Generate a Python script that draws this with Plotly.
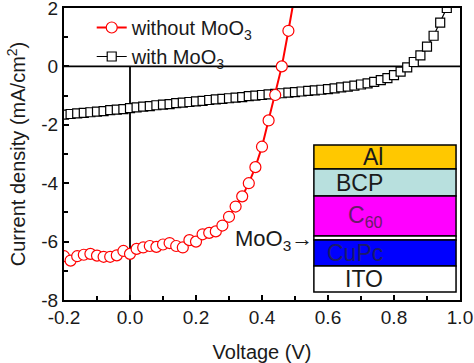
import plotly.graph_objects as go

# ---- data ----
v_without = [-0.20, -0.18, -0.16, -0.14, -0.12, -0.10, -0.08, -0.06, -0.04, -0.02,
             0.00, 0.02, 0.04, 0.06, 0.08, 0.10, 0.12, 0.14, 0.16, 0.18,
             0.20, 0.22, 0.24, 0.26, 0.28, 0.30, 0.32, 0.34, 0.36, 0.38,
             0.40, 0.42, 0.44, 0.46, 0.48, 0.50]
j_without = [-6.50, -6.65, -6.50, -6.45, -6.42, -6.48, -6.52, -6.52, -6.47, -6.32,
             -6.42, -6.25, -6.20, -6.15, -6.18, -6.10, -6.05, -6.15, -6.20, -5.95,
             -6.00, -5.75, -5.70, -5.65, -5.45, -5.15, -4.80, -4.45, -4.00, -3.45,
             -2.75, -1.85, -0.98, 0.00, 1.22, 2.50]

v_with = [round(-0.20 + 0.02 * i, 2) for i in range(59)]
j_with = [-1.65, -1.63, -1.61, -1.59, -1.57, -1.55, -1.53, -1.50, -1.48, -1.46,
          -1.43, -1.40, -1.38, -1.36, -1.33, -1.31, -1.29, -1.26, -1.24, -1.22,
          -1.20, -1.18, -1.15, -1.13, -1.11, -1.09, -1.07, -1.05, -1.02, -1.00,
          -0.98, -0.96, -0.94, -0.92, -0.90, -0.88, -0.86, -0.84, -0.82, -0.80,
          -0.78, -0.75, -0.72, -0.69, -0.66, -0.62, -0.58, -0.53, -0.47, -0.40,
          -0.30, -0.18, -0.03, 0.15, 0.38, 0.68, 1.05, 1.50, 2.00]

x_tickvals = [-0.2, 0.0, 0.2, 0.4, 0.6, 0.8, 1.0]
x_ticktext = ["-0.2", "0.0", "0.2", "0.4", "0.6", "0.8", "1.0"]
y_tickvals = [-8, -6, -4, -2, 0, 2]
y_ticktext = ["-8", "-6", "-4", "-2", "0", "2"]

# inset device stack (top to bottom): label, color, text color, thickness share
layers = [("Al", "#FFC800", "#1a1a1a", 24),
          ("BCP", "#B8E0DE", "#1a1a1a", 27),
          ("C<sub>60</sub>", "#FF00FF", "#6a1a6a", 40),
          ("", "#FFFFFF", "#1a1a1a", 4),
          ("CuPc", "#0000FF", "#1c1c6a", 26),
          ("ITO", "#FFFFFF", "#1a1a1a", 26)]

FONT = "Liberation Sans, Arial, sans-serif"

fig = go.Figure()
fig.add_trace(go.Scatter(
    x=v_with, y=j_with, mode="lines+markers", name="with MoO<sub>3</sub>",
    line=dict(color="black", width=1.2),
    marker=dict(symbol="square", size=9, color="white",
                line=dict(color="black", width=1.2)),
    legendrank=2, legendgroup="b"))
fig.add_trace(go.Scatter(
    x=v_without, y=j_without, mode="lines+markers", name="without MoO<sub>3</sub>",
    line=dict(color="#FF0000", width=2),
    marker=dict(symbol="circle", size=11, color="white",
                line=dict(color="#FF0000", width=1.2)),
    legendrank=1, legendgroup="a"))

# reference lines
fig.add_shape(type="line", xref="x", yref="y", x0=-0.2, x1=1.0, y0=0, y1=0,
              line=dict(color="black", width=1.6), layer="below")
fig.add_shape(type="line", xref="x", yref="y", x0=0, x1=0, y0=-8, y1=0,
              line=dict(color="black", width=1.8), layer="below")

# inset (paper coordinates)
px0, px1 = 0.631, 0.990
top = (300 - 145) / 292
total = sum(l[3] for l in layers)
height = (292 - 145) / 292
cur = top
for name, col, tcol, th in layers:
    h = height * th / total
    y1, y0 = cur, cur - h
    fig.add_shape(type="rect", xref="paper", yref="paper", x0=px0, x1=px1,
                  y0=y0, y1=y1, fillcolor=col, line=dict(color="black", width=1.5))
    if name:
        fig.add_annotation(xref="paper", yref="paper", x=(px0 + px1) / 2,
                           y=(y0 + y1) / 2, text=name, showarrow=False,
                           yanchor="middle",
                           font=dict(family=FONT, size=23, color=tcol))
    cur = y0
fig.add_annotation(xref="paper", yref="paper", x=px0 + 0.002, y=(300 - 240) / 292,
                   xanchor="right", yanchor="middle", text="MoO<sub>3</sub>→",
                   showarrow=False, font=dict(family=FONT, size=22, color="#1a1a1a"))

axis_common = dict(showline=True, linecolor="black", linewidth=2, mirror=True,
                   ticks="inside", ticklen=5, tickwidth=1.5, tickcolor="black",
                   showgrid=False, zeroline=False, automargin=False,
                   ticklabeloverflow="allow",
                   tickfont=dict(family=FONT, size=19, color="#1a1a1a"))
fig.update_xaxes(range=[-0.2, 1.0], tickvals=x_tickvals, ticktext=x_ticktext,
                 ticklabelstandoff=-1,
                 minor=dict(ticks="inside", ticklen=4, tickwidth=1.5, dtick=0.1,
                            tickcolor="black"),
                 title=dict(text="Voltage (V)", standoff=18,
                            font=dict(family=FONT, size=20, color="#1a1a1a")),
                 **axis_common)
fig.update_yaxes(range=[-8, 2], tickvals=y_tickvals, ticktext=y_ticktext,
                 minor=dict(ticks="inside", ticklen=4, tickwidth=1.5, dtick=1,
                            tickcolor="black"),
                 title=dict(text="Current density (mA/cm<sup>2</sup>)", standoff=10,
                            font=dict(family=FONT, size=20, color="#1a1a1a")),
                 **axis_common)

fig.update_layout(
    width=474, height=363,
    margin=dict(l=64, r=14, t=8, b=63),
    plot_bgcolor="white", paper_bgcolor="white",
    showlegend=True,
    legend=dict(x=0.07, y=1.0, xanchor="left", yanchor="top",
                bgcolor="rgba(0,0,0,0)", borderwidth=0,
                font=dict(family=FONT, size=20, color="#1a1a1a"),
                traceorder="grouped", tracegroupgap=0, itemwidth=30),
)

fig.write_html("out.html", config={"displayModeBar": False},
               post_script="document.body.style.margin='0';document.body.style.overflow='hidden';")
